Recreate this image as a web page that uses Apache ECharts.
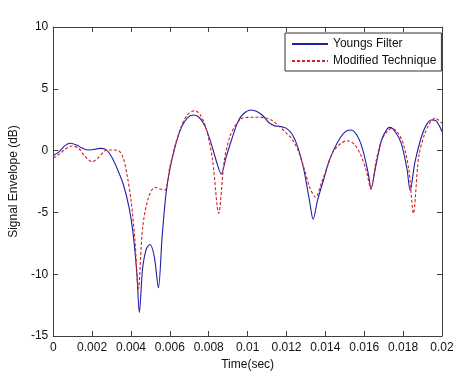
<!DOCTYPE html>
<html>
<head>
<meta charset="utf-8">
<script src="https://cdn.jsdelivr.net/npm/echarts@6/dist/echarts.min.js"></script>
<style>
html,body{margin:0;padding:0;background:#fff;}
#c{width:474px;height:379px;}
</style>
</head>
<body>
<div id="c"></div>
<script>
// Time (sec) and signal envelope (dB) for each curve
var youngsTime = [0,0.0003,0.0006,0.0009,0.0012,0.0015,0.0018,0.0021,0.0024,0.0027,0.003,0.0033,0.0036,0.0039,0.0041,0.0043,0.00443,0.0046,0.0048,0.00498,0.0052,0.00541,0.0056,0.0058,0.006,0.0063,0.0066,0.0069,0.0072,0.0075,0.0078,0.0081,0.0084,0.00864,0.0089,0.0092,0.0095,0.0098,0.01018,0.0105,0.0108,0.0111,0.0114,0.0117,0.012,0.0123,0.0126,0.0129,0.0132,0.01337,0.0136,0.0139,0.0142,0.0146,0.015,0.0153,0.0156,0.0159,0.0162,0.01635,0.0166,0.0169,0.0172,0.01734,0.0176,0.0179,0.0182,0.01836,0.0186,0.0189,0.0192,0.01947,0.0197,0.0199,0.02];
var youngsValues = [-0.4,-0.1,0.4,0.59,0.45,0.2,0.05,0.1,0.18,0.1,-0.5,-1.5,-2.7,-4.6,-6.6,-9.9,-13.1,-9.5,-7.9,-7.6,-8.6,-11.1,-7.0,-3.5,-1.5,0.5,1.9,2.65,2.88,2.7,2.0,0.7,-0.9,-1.9,-0.5,1.0,2.34,3.0,3.28,3.15,2.8,2.25,2.0,1.95,1.8,1.3,0.2,-1.6,-4.2,-5.56,-4.0,-2.4,-0.8,0.6,1.5,1.67,1.3,0.2,-1.8,-3.05,-1.2,0.9,1.8,1.88,1.5,0.6,-1.5,-3.24,-1.0,0.9,2.1,2.48,2.4,1.9,1.53];

var modifiedTime = [0,0.0003,0.0006,0.00097,0.0013,0.0016,0.002,0.0023,0.00268,0.003,0.00336,0.0036,0.0038,0.004,0.0042,0.00438,0.0046,0.0049,0.00523,0.0055,0.00574,0.006,0.0063,0.0066,0.0069,0.00728,0.0076,0.0079,0.0082,0.00851,0.0088,0.0091,0.0094,0.0097,0.01,0.0104,0.0108,0.0112,0.0116,0.012,0.0123,0.0126,0.0129,0.0132,0.0135,0.0138,0.0141,0.0144,0.0148,0.01512,0.0155,0.0158,0.0161,0.01635,0.0166,0.0169,0.0172,0.01743,0.0177,0.018,0.0183,0.01853,0.0188,0.0191,0.0194,0.01964,0.0198,0.02];
var modifiedValues = [-0.6,-0.3,0.1,0.37,0.2,-0.4,-0.9,-0.6,0.0,0.05,0.0,-0.6,-2.0,-4.0,-7.2,-11.2,-6.2,-3.8,-2.97,-3.1,-3.2,-1.3,0.6,2.0,2.9,3.23,2.8,1.6,-0.8,-5.07,-0.8,1.2,2.1,2.6,2.69,2.7,2.67,2.5,2.0,1.4,0.9,0.0,-1.4,-3.0,-3.78,-2.6,-1.3,-0.1,0.59,0.8,0.5,-0.3,-1.6,-3.13,-0.9,0.86,1.6,1.8,1.5,0.6,-1.6,-5.07,-0.5,1.3,2.3,2.61,2.5,2.2];

var seriesNames = ['Youngs Filter', 'Modified Technique'];
var xTicks = [0,0.002,0.004,0.006,0.008,0.01,0.012,0.014,0.016,0.018,0.02];
var yTicks = [-15,-10,-5,0,5,10];

function pairs(xs, ys){ return xs.map(function(x,i){ return [x, ys[i]]; }); }

var FONT = 'Liberation Sans, Arial, sans-serif';
var axisCol = '#404040';
var chart = echarts.init(document.getElementById('c'), null, {renderer:'canvas'});
var baseX = {
  type:'value', min:xTicks[0], max:xTicks[xTicks.length-1], interval:0.002,
  axisLine:{show:true,onZero:false,lineStyle:{color:axisCol,width:1}},
  axisTick:{show:true,inside:true,length:5,lineStyle:{color:axisCol}},
  splitLine:{show:false}
};
var baseY = {
  type:'value', min:yTicks[0], max:yTicks[yTicks.length-1], interval:5,
  axisLine:{show:true,onZero:false,lineStyle:{color:axisCol,width:1}},
  axisTick:{show:true,inside:true,length:5,lineStyle:{color:axisCol}},
  splitLine:{show:false}
};
chart.setOption({
  animation:false,
  backgroundColor:'#fff',
  grid:{left:51, top:27, right:32, bottom:43, containLabel:false},
  legend:{
    data:seriesNames, orient:'vertical', left:285, top:33,
    backgroundColor:'#fff', borderColor:'#333', borderWidth:1,
    padding:[5,5,4,6], itemWidth:36, itemHeight:10, itemGap:5,
    itemStyle:{opacity:0},
    textStyle:{fontFamily:FONT, fontSize:12, color:'#111'}
  },
  xAxis:[
    Object.assign({}, baseX, {
      position:'bottom',
      name:'Time(sec)', nameLocation:'middle', nameGap:23,
      nameTextStyle:{fontFamily:FONT, fontSize:12, color:'#111'},
      axisLabel:{fontFamily:FONT, fontSize:12, color:'#111', margin:6,
        formatter:function(v){ return String(+v.toFixed(3)); }}
    }),
    Object.assign({}, baseX, {position:'top', axisLabel:{show:false}})
  ],
  yAxis:[
    Object.assign({}, baseY, {
      position:'left',
      name:'Signal Envelope (dB)', nameLocation:'middle', nameGap:23,
      nameTextStyle:{fontFamily:FONT, fontSize:12, color:'#111'},
      axisLabel:{fontFamily:FONT, fontSize:12, color:'#111', margin:5}
    }),
    Object.assign({}, baseY, {position:'right', axisLabel:{show:false}})
  ],
  series:[
    {
      name:seriesNames[0], type:'line', xAxisIndex:0, yAxisIndex:0,
      data:pairs(youngsTime, youngsValues), smooth:0.3, symbol:'none', showSymbol:false,
      lineStyle:{color:'#1f1fa8', width:1.1}, itemStyle:{color:'#1f1fa8'}
    },
    {
      name:seriesNames[1], type:'line', xAxisIndex:0, yAxisIndex:0,
      data:pairs(modifiedTime, modifiedValues), smooth:0.3, symbol:'none', showSymbol:false,
      lineStyle:{color:'#d42020', width:1.1, type:[3,2]}, itemStyle:{color:'#d42020'}
    }
  ]
});
</script>
</body>
</html>
